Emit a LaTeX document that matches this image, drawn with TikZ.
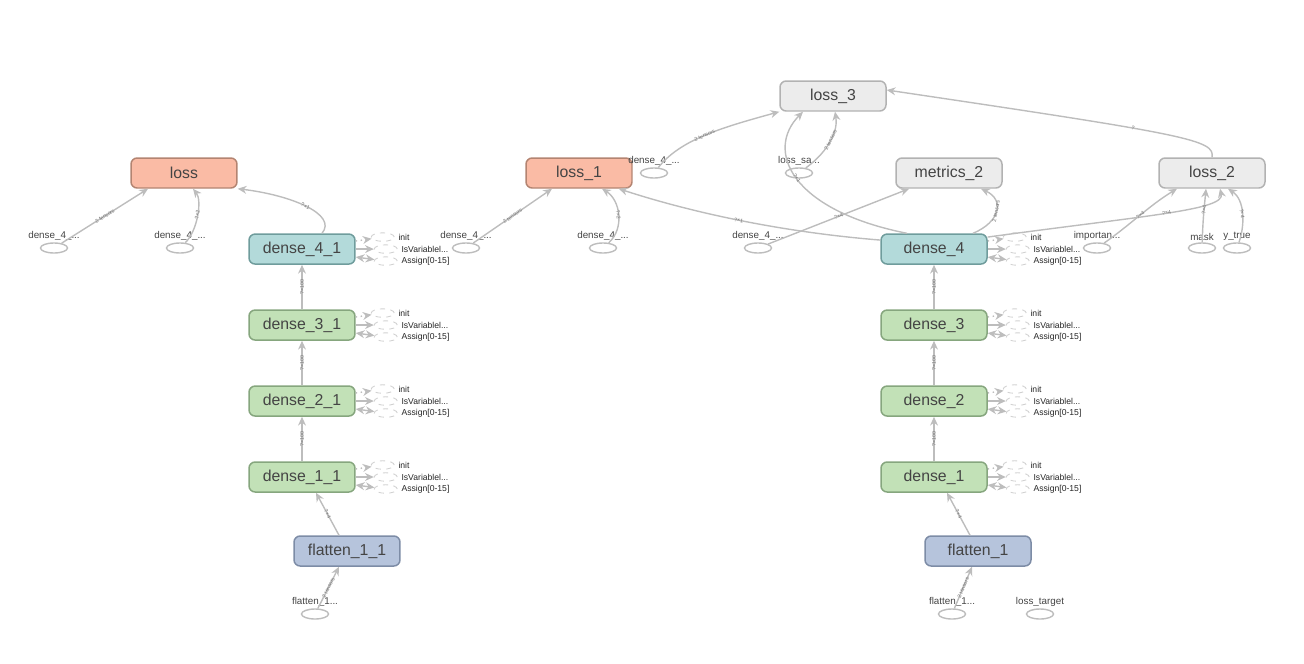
\documentclass[tikz,border=0pt]{standalone}
\usepackage{fontspec}
\setmainfont{Liberation Sans}
\usepackage{tikz}
\usetikzlibrary{shapes.geometric, arrows, arrows.meta, positioning}

\definecolor{losscol}{HTML}{FABBA5}
\definecolor{lossline}{HTML}{B38471}
\definecolor{outcol}{HTML}{B3DADA}
\definecolor{outline}{HTML}{6F9C9C}
\definecolor{densecol}{HTML}{C2E1B7}
\definecolor{denseline}{HTML}{86A67E}
\definecolor{flatcol}{HTML}{B6C4DC}
\definecolor{flatline}{HTML}{7D8CA6}
\definecolor{metcol}{HTML}{ECECEC}
\definecolor{metline}{HTML}{B2B2B2}
\definecolor{edgecol}{HTML}{BDBDBD}
\definecolor{txtcol}{HTML}{444444}

\tikzstyle{op} = [rectangle, rounded corners=3.5pt, minimum width=2.12cm, minimum height=0.6cm, text centered, line width=0.85pt, font=\fontsize{9}{10}\selectfont, text=txtcol]
\tikzstyle{lossop} = [op, draw=lossline, fill=losscol]
\tikzstyle{outop} = [op, draw=outline, fill=outcol]
\tikzstyle{denseop} = [op, draw=denseline, fill=densecol]
\tikzstyle{flatop} = [op, draw=flatline, fill=flatcol]
\tikzstyle{grayop} = [op, draw=metline, fill=metcol]
\tikzstyle{const} = [ellipse, draw=edgecol, line width=0.8pt, minimum width=0.54cm, minimum height=0.2cm, inner sep=0pt]
\tikzstyle{clabel} = [font=\fontsize{5.6}{6}\selectfont, text=txtcol, inner sep=0.6pt]
\tikzstyle{varop} = [ellipse, draw=edgecol!70, dashed, line width=0.5pt, minimum width=0.46cm, minimum height=0.17cm, inner sep=0pt]
\tikzstyle{oplabel} = [font=\fontsize{4.9}{5}\selectfont, text=black!85, inner sep=0pt]
\tikzstyle{arrow} = [draw=edgecol, line width=0.8pt, -{Stealth[length=5pt,width=4.5pt]}]
\tikzstyle{dotarrow} = [arrow, dotted]
\tikzstyle{elabel} = [font=\fontsize{3}{3}\selectfont, text=black!55, sloped, inner sep=0.4pt]

% side ops of a dense layer
\newcommand{\varops}[1]{%
  \node (#1-init) [varop] at ([shift={(27,-12)}]#1.east) {};
  \node (#1-isv) [varop] at ([shift={(30,0)}]#1.east) {};
  \node (#1-asg) [varop] at ([shift={(30,12)}]#1.east) {};
  \node [oplabel, right=2pt of #1-init] {init};
  \node [oplabel, right=2pt of #1-isv] {IsVariablel...};
  \node [oplabel, right=2pt of #1-asg] {Assign[0-15]};
  \draw [dotarrow] ([shift={(0,-8)}]#1.east) -- (#1-init);
  \draw [arrow] (#1.east) -- (#1-isv);
  \draw [arrow, {Stealth[length=5pt,width=4.5pt]}-{Stealth[length=5pt,width=4.5pt]}] ([shift={(0,8)}]#1.east) -- (#1-asg);
}

\begin{document}
\begin{tikzpicture}[x=0.02cm, y=-0.02cm]
\useasboundingbox (0,0) rectangle (1304,663);

% Nodes
\node (loss) [lossop] at (184,173) {loss};
\node (loss1) [lossop] at (579,173) {loss\_1};
\node (loss3) [grayop] at (833,96) {loss\_3};
\node (metrics2) [grayop] at (949,173) {metrics\_2};
\node (loss2) [grayop] at (1212,173) {loss\_2};

\node (dense11) [denseop] at (302,477) {dense\_1\_1};
\node (dense21) [denseop, above=0.89cm of dense11] {dense\_2\_1};
\node (dense31) [denseop, above=0.89cm of dense21] {dense\_3\_1};
\node (dense41) [outop, above=0.89cm of dense31] {dense\_4\_1};
\node (flat11) [flatop] at (347,551) {flatten\_1\_1};

\node (dense1) [denseop] at (934,477) {dense\_1};
\node (dense2) [denseop, above=0.89cm of dense1] {dense\_2};
\node (dense3) [denseop, above=0.89cm of dense2] {dense\_3};
\node (dense4) [outop, above=0.89cm of dense3] {dense\_4};
\node (flat1) [flatop] at (978,551) {flatten\_1};

% Inputs
\node (lossA) [const, label={[clabel]above:dense\_4\_...}] at (54,248) {};
\node (lossB) [const, label={[clabel]above:dense\_4\_...}] at (180,248) {};
\node (loss1A) [const, label={[clabel]above:dense\_4\_...}] at (466,248) {};
\node (loss1B) [const, label={[clabel]above:dense\_4\_...}] at (603,248) {};
\node (loss3A) [const, label={[clabel]above:dense\_4\_...}] at (654,173) {};
\node (loss3B) [const, label={[clabel]above:loss\_sa...}] at (799,173) {};
\node (metA) [const, label={[clabel]above:dense\_4\_...}] at (758,248) {};
\node (impt) [const, label={[clabel]above:importan...}] at (1097,248) {};
\node (mask) [const, label={[clabel]above:mask}] at (1202,248) {};
\node (ytrue) [const, label={[clabel]above:y\_true}] at (1237,248) {};
\node (flatin11) [const, label={[clabel]above:flatten\_1...}] at (315,614) {};
\node (flatin1) [const, label={[clabel]above:flatten\_1...}] at (952,614) {};
\node (ltarget) [const, label={[clabel]above:loss\_target}] at (1040,614) {};

% Side ops
\varops{dense11}
\varops{dense21}
\varops{dense31}
\varops{dense41}
\varops{dense1}
\varops{dense2}
\varops{dense3}
\varops{dense4}

% Arrows, left model
\draw [arrow] (lossA) -- node[elabel] {2 tensors} ([shift={(-36,0)}]loss.south);
\draw [arrow] (lossB) .. controls (198,230) and (202,200) .. node[elabel] {?×2} ([shift={(9,0)}]loss.south);
\draw [arrow] ([shift={(20,0)}]dense41.north) .. controls (338,214) and (290,195) .. node[elabel] {?×1} (loss.south east);
\draw [arrow] (dense31) -- node[elabel] {?×100} (dense41);
\draw [arrow] (dense21) -- node[elabel] {?×100} (dense31);
\draw [arrow] (dense11) -- node[elabel] {?×100} (dense21);
\draw [arrow] ([shift={(-8,0)}]flat11.north) -- node[elabel] {?×4} ([shift={(14,0)}]dense11.south);
\draw [arrow] (flatin11) -- node[elabel] {2 tensors} ([shift={(-8,0)}]flat11.south);

% Arrows, right model
\draw [arrow] (loss1A) -- node[elabel] {2 tensors} ([shift={(-27,0)}]loss1.south);
\draw [arrow] (loss1B) .. controls (625,228) and (620,200) .. node[elabel] {?×2} ([shift={(23,0)}]loss1.south);
\draw [arrow] ([shift={(0,-9)}]dense4.west) .. controls (780,232) and (690,212) .. node[elabel] {?×1} ([shift={(-14,0)}]loss1.south east);
\draw [arrow] ([shift={(-27,0)}]dense4.north) .. controls (790,210) and (765,150) .. node[elabel] {?×1} ([shift={(-30,0)}]loss3.south);
\draw [arrow] (loss3A) .. controls (680,140) and (720,128) .. node[elabel] {2 tensors} (loss3.south west);
\draw [arrow] (loss3B) .. controls (830,150) and (838,130) .. node[elabel] {2 tensors} ([shift={(2,0)}]loss3.south);
\draw [arrow] (metA) -- node[elabel] {?×4} ([shift={(-40,0)}]metrics2.south);
\draw [arrow] ([shift={(39,0)}]dense4.north) .. controls (1000,222) and (1005,200) .. node[elabel] {2 tensors} ([shift={(32,0)}]metrics2.south);
\draw [arrow] ([shift={(0,-12)}]dense4.east) .. controls (1150,215) and (1225,210) .. node[elabel] {?×4} ([shift={(8,0)}]loss2.south);
\draw [arrow] (impt) .. controls (1130,225) and (1150,205) .. node[elabel] {?×4} ([shift={(-35,0)}]loss2.south);
\draw [arrow] (mask) .. controls (1203,215) and (1205,200) .. node[elabel] {?×4} ([shift={(-6,0)}]loss2.south);
\draw [arrow] (ytrue) .. controls (1245,225) and (1245,200) .. node[elabel] {?×4} ([shift={(16,0)}]loss2.south);
\draw [arrow] (loss2.north) .. controls (1215,140) and (1190,135) .. node[elabel, pos=0.6] {?} ([shift={(0,-6)}]loss3.east);
\draw [arrow] (dense3) -- node[elabel] {?×100} (dense4);
\draw [arrow] (dense2) -- node[elabel] {?×100} (dense3);
\draw [arrow] (dense1) -- node[elabel] {?×100} (dense2);
\draw [arrow] ([shift={(-8,0)}]flat1.north) -- node[elabel] {?×4} ([shift={(13,0)}]dense1.south);
\draw [arrow] (flatin1) -- node[elabel] {2 tensors} ([shift={(-6,0)}]flat1.south);
\end{tikzpicture}
\end{document}
